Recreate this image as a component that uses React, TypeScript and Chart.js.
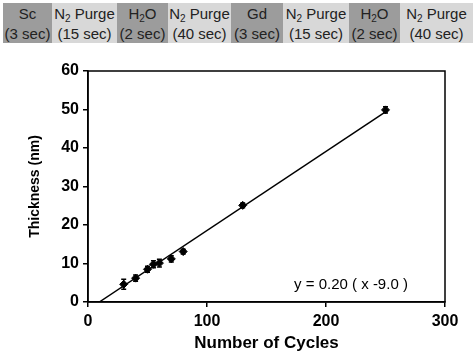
import React, { useEffect, useRef } from "react";
import { Chart, registerables } from "chart.js";

Chart.register(...registerables);

const cycles = [30, 40, 50, 55, 60, 70, 80, 130, 250];
const thickness = [4.6, 6.2, 8.5, 9.8, 10.1, 11.2, 13.1, 25.1, 49.9];
const errors = [1.3, 0.8, 0.8, 0.9, 1.0, 0.8, 0.6, 0.6, 0.8];
const fitX = [9.5, 250];
const fitY = [0, 49.4];
const fitLabel = "y = 0.20 ( x -9.0 )";
const fitLabelPos = { x: 221, y: 4.4 };

const steps = [
  { name: "Sc", sub: "", rest: "", time: "(3 sec)", dark: true, w: 49 },
  { name: "N", sub: "2", rest: " Purge", time: "(15 sec)", dark: false, w: 65 },
  { name: "H", sub: "2", rest: "O", time: "(2 sec)", dark: true, w: 51 },
  { name: "N", sub: "2", rest: " Purge", time: "(40 sec)", dark: false, w: 63 },
  { name: "Gd", sub: "", rest: "", time: "(3 sec)", dark: true, w: 52 },
  { name: "N", sub: "2", rest: " Purge", time: "(15 sec)", dark: false, w: 66 },
  { name: "H", sub: "2", rest: "O", time: "(2 sec)", dark: true, w: 51 },
  { name: "N", sub: "2", rest: " Purge", time: "(40 sec)", dark: false, w: 73 },
];

const extrasPlugin = {
  id: "extras",
  afterDatasetsDraw(chart: any) {
    const ctx = chart.ctx;
    const xs = chart.scales.x;
    const ys = chart.scales.y;
    ctx.save();
    ctx.strokeStyle = "#000";
    ctx.lineWidth = 1.5;
    cycles.forEach((c, i) => {
      const px = xs.getPixelForValue(c);
      const top = ys.getPixelForValue(thickness[i] + errors[i]);
      const bot = ys.getPixelForValue(thickness[i] - errors[i]);
      ctx.beginPath();
      ctx.moveTo(px, top);
      ctx.lineTo(px, bot);
      ctx.moveTo(px - 2.5, top);
      ctx.lineTo(px + 2.5, top);
      ctx.moveTo(px - 2.5, bot);
      ctx.lineTo(px + 2.5, bot);
      ctx.stroke();
    });
    const a = chart.chartArea;
    ctx.lineWidth = 1.5;
    ctx.strokeRect(a.left, a.top, a.right - a.left, a.bottom - a.top);
    ctx.fillStyle = "#000";
    ctx.font = "15px Arial, 'Liberation Sans', sans-serif";
    ctx.textAlign = "center";
    ctx.textBaseline = "middle";
    ctx.fillText(fitLabel, xs.getPixelForValue(fitLabelPos.x), ys.getPixelForValue(fitLabelPos.y));
    ctx.restore();
  },
};

export default function App() {
  const ref = useRef<HTMLCanvasElement>(null);
  useEffect(() => {
    if (!ref.current) return;
    const chart = new Chart(ref.current, {
      type: "scatter",
      data: {
        datasets: [
          {
            type: "line",
            data: fitX.map((x, i) => ({ x, y: fitY[i] })),
            borderColor: "#000",
            borderWidth: 1.5,
            pointRadius: 0,
            fill: false,
          } as any,
          {
            data: cycles.map((x, i) => ({ x, y: thickness[i] })),
            backgroundColor: "#000",
            borderColor: "#000",
            pointStyle: "rectRot",
            pointRadius: 4,
            borderWidth: 1,
          },
        ],
      },
      options: {
        animation: false,
        responsive: false,
        devicePixelRatio: 1,
        layout: { padding: { top: 21, right: 29, left: 0, bottom: 0 } },
        plugins: { legend: { display: false }, tooltip: { enabled: false } },
        scales: {
          x: {
            type: "linear",
            min: 0,
            max: 300,
            afterFit: (s: any) => { s.height = 52; },
            ticks: {
              stepSize: 100,
              color: "#000",
              padding: 5,
              font: { family: "Arial, 'Liberation Sans', sans-serif", size: 16, weight: "bold" },
            },
            grid: { drawOnChartArea: false, drawTicks: true, tickLength: 5, color: "#000", lineWidth: 1.5 },
            border: { display: true, color: "#000", width: 1.5 },
            title: {
              display: true,
              text: "Number of Cycles",
              color: "#000",
              padding: { top: 3, bottom: 0 },
              font: { family: "Arial, 'Liberation Sans', sans-serif", size: 17, weight: "bold" },
            },
          },
          y: {
            type: "linear",
            min: 0,
            max: 60,
            afterFit: (s: any) => { s.width = 88; },
            ticks: {
              stepSize: 10,
              color: "#000",
              padding: 4,
              font: { family: "Arial, 'Liberation Sans', sans-serif", size: 16, weight: "bold" },
            },
            grid: { drawOnChartArea: false, drawTicks: true, tickLength: 5, color: "#000", lineWidth: 1.5 },
            border: { display: true, color: "#000", width: 1.5 },
            title: {
              display: true,
              text: "Thickness (nm)",
              color: "#000",
              padding: { top: 27, bottom: 0 },
              font: { family: "Arial, 'Liberation Sans', sans-serif", size: 14, weight: "bold" },
            },
          },
        },
      },
      plugins: [extrasPlugin],
    } as any);
    return () => chart.destroy();
  }, []);

  let left = 3;
  return (
    <div style={{ position: "fixed", left: 0, top: 0, width: 474, height: 354, background: "#fff", overflow: "hidden" }}>
      {steps.map((s, i) => {
        const el = (
          <div
            key={i}
            style={{
              position: "absolute",
              left,
              top: 3,
              width: s.w,
              height: 40,
              background: s.dark ? "#9c9c9c" : "#d8d8d8",
              fontFamily: "Arial, 'Liberation Sans', sans-serif",
              fontSize: 15,
              color: "#222",
              textAlign: "center",
              lineHeight: "20px",
              whiteSpace: "nowrap",
              paddingTop: 1,
              boxSizing: "border-box",
            }}
          >
            <div>
              {s.name}
              {s.sub ? <sub style={{ fontSize: 10, verticalAlign: "-3px", lineHeight: 0 }}>{s.sub}</sub> : null}
              {s.rest}
            </div>
            <div>{s.time}</div>
          </div>
        );
        left += s.w;
        return el;
      })}
      <canvas ref={ref} width={474} height={304} style={{ position: "absolute", left: 0, top: 50, width: 474, height: 304 }} />
    </div>
  );
}
